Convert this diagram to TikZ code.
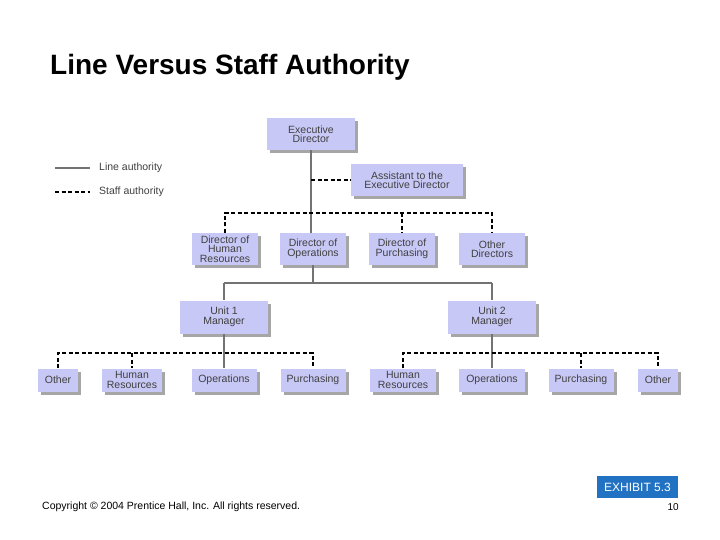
\documentclass[tikz,border=0pt]{standalone}
\usepackage{fontspec}
\setmainfont{Liberation Sans}
\usetikzlibrary{shadows}
\definecolor{boxfill}{HTML}{C8C8F6}
\definecolor{exh}{HTML}{2272C3}
\begin{document}
\begin{tikzpicture}[x=1pt,y=-1pt,
  bx/.style={fill=boxfill,draw=none,minimum height=#1,inner sep=1pt,align=center,font=\fontsize{10.5}{9.5}\selectfont,text=black!75,
    drop shadow={shadow xshift=3pt,shadow yshift=-3pt,fill=black!35,opacity=1}},
  bx/.default=32,
  ln/.style={draw=black!55,line width=1.4pt},
  st/.style={draw=black,line width=1.4pt,dash pattern=on 4pt off 2.5pt}]
\useasboundingbox (0,0) rectangle (720,540);
\node[anchor=west,font=\bfseries\fontsize{28}{28}\selectfont,inner sep=0pt] (title) at (50,67) {Line Versus Staff Authority};
% legend
\coordinate (l1a) at (55,168); \coordinate (l1b) at (90,168);
\coordinate (l2a) at (55,192); \coordinate (l2b) at (90,192);
\draw[ln,line width=1.2pt] (l1a)--(l1b);
\draw[st,line width=1.2pt] (l2a)--(l2b);
\node[anchor=west,font=\fontsize{10.5}{10.5}\selectfont,text=black!75,inner sep=0pt] (lt1) at (99,168) {Line authority};
\node[anchor=west,font=\fontsize{10.5}{10.5}\selectfont,text=black!75,inner sep=0pt] (lt2) at (99,192) {Staff authority};
% nodes
\node[bx,minimum width=88] (ed) at (311,134) {Executive\\Director};
\node[bx,minimum width=112] (as) at (407,180) {Assistant to the\\Executive Director};
\node[bx,minimum width=66] (dhr) at (225,249) {Director of\\Human\\Resources};
\node[bx,minimum width=66] (dop) at (313,249) {Director of\\Operations};
\node[bx,minimum width=66] (dpu) at (402,249) {Director of\\Purchasing};
\node[bx,minimum width=66] (dot) at (492,249) {Other\\Directors};
\node[bx,minimum width=88,minimum height=33] (u1) at (224,317) {Unit 1\\Manager};
\node[bx,minimum width=88,minimum height=33] (u2) at (492,317) {Unit 2\\Manager};
\node[bx=23,minimum width=40] (a1) at (58,380) {Other};
\node[bx=23,minimum width=60] (a2) at (132,380) {Human\\Resources};
\node[bx=23,minimum width=65] (a3) at (224,380) {Operations};
\node[bx=23,minimum width=65] (a4) at (313,380) {Purchasing};
\node[bx=23,minimum width=66] (b1) at (403,380) {Human\\Resources};
\node[bx=23,minimum width=66] (b2) at (492,380) {Operations};
\node[bx=23,minimum width=65] (b3) at (581,380) {Purchasing};
\node[bx=23,minimum width=40] (b4) at (658,380) {Other};
% line authority
\coordinate (trunk) at (311,180);
\coordinate (h1) at (311,213);
\coordinate (j) at (313,283);
\coordinate (j1) at (224,283);
\coordinate (j2) at (492,283);
\draw[ln] (ed.south) -- (311,233);
\draw[ln] (dop.south) -- (j);
\draw[ln] (j1) -- (j2);
\draw[ln] (j1) -- (u1.north);
\draw[ln] (j2) -- (u2.north);
\draw[ln] (u1.south) -- (a3.north);
\draw[ln] (u2.south) -- (b2.north);
% staff authority
\draw[st] (trunk) -- (as.west);
\draw[st] (dhr.north) |- (dot.north |- h1) -- (dot.north);
\draw[st] (dpu.north |- h1) -- (dpu.north);
\draw[st] (a1.north) |- (a4.north |- 0,353) -- (a4.north);
\draw[st] (a2.north |- 0,353) -- (a2.north);
\draw[st] (b1.north) |- (b4.north |- 0,353) -- (b4.north);
\draw[st] (b3.north |- 0,353) -- (b3.north);
% footer
\node[fill=exh,text=white,minimum width=81,minimum height=22,font=\fontsize{12}{12}\selectfont] (ex) at (637.5,487) {EXHIBIT 5.3};
\node[anchor=west,font=\fontsize{10.5}{10.5}\selectfont,inner sep=0pt] (cp) at (42,507) {Copyright © 2004 Prentice Hall, Inc. All rights reserved.};
\node[anchor=east,font=\fontsize{10}{10}\selectfont,inner sep=0pt] (pg) at (679,507) {10};
\end{tikzpicture}
\end{document}
